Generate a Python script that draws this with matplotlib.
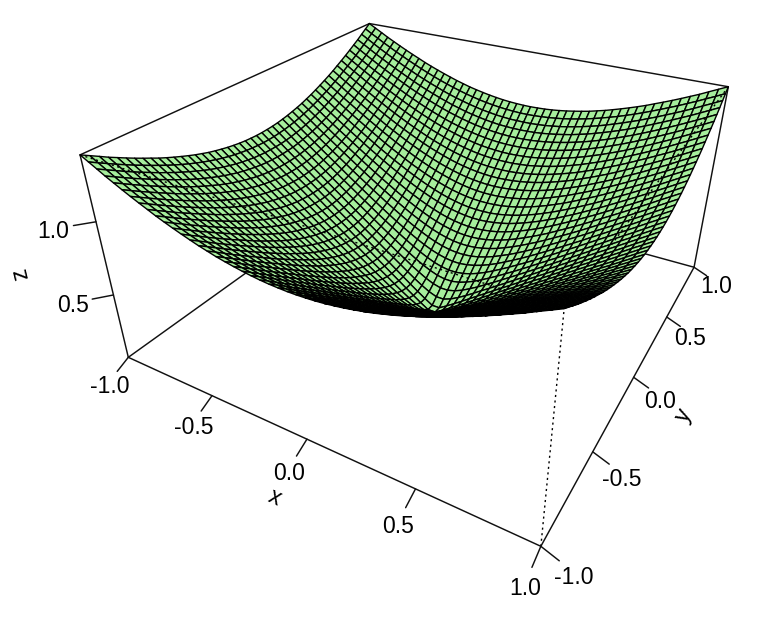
import numpy as np
import matplotlib
matplotlib.use('Agg')
import matplotlib.pyplot as plt
from matplotlib.collections import PolyCollection

plt.rcParams['font.family'] = ['Liberation Sans', 'DejaVu Sans']

# grid positions on the positive half of both axes (the other half mirrors it)
half_grid = [0.020, 0.061, 0.102, 0.143, 0.184, 0.224, 0.265, 0.306, 0.347, 0.388,
             0.429, 0.469, 0.510, 0.551, 0.592, 0.633, 0.673, 0.714, 0.755, 0.796,
             0.837, 0.878, 0.918, 0.959, 1.000]

# heights for one quadrant, upper triangle only (row i starts at column i)
z_rows = [
    [.029, .065, .104, .144, .185, .225, .266, .307, .348, .388, .429, .470, .511, .551, .592, .633, .674, .715, .755, .796, .837, .878, .919, .959, 1.000],
    [.087, .119, .155, .194, .233, .272, .312, .352, .393, .433, .473, .514, .554, .595, .636, .676, .717, .758, .798, .839, .880, .920, .961, 1.002],
    [.144, .176, .210, .247, .284, .323, .362, .401, .441, .480, .520, .560, .601, .641, .681, .722, .762, .802, .843, .883, .924, .965, 1.005],
    [.202, .233, .266, .301, .338, .375, .413, .452, .491, .530, .569, .609, .649, .688, .728, .768, .809, .849, .889, .929, .970, 1.010],
    [.260, .290, .323, .357, .393, .429, .466, .504, .542, .581, .620, .659, .698, .738, .777, .817, .857, .897, .937, .977, 1.017],
    [.317, .348, .380, .413, .448, .484, .520, .557, .595, .633, .671, .710, .749, .788, .827, .866, .906, .945, .985, 1.025],
    [.375, .405, .437, .470, .504, .539, .575, .612, .649, .686, .724, .762, .800, .839, .878, .917, .956, .995, 1.035],
    [.433, .463, .494, .527, .560, .595, .630, .666, .703, .740, .777, .815, .853, .891, .929, .968, 1.007, 1.046],
    [.491, .520, .551, .584, .617, .651, .686, .722, .758, .794, .831, .868, .906, .944, .982, 1.020, 1.058],
    [.548, .578, .609, .641, .674, .708, .742, .777, .813, .849, .885, .922, .959, .997, 1.035, 1.073],
    [.606, .636, .666, .698, .731, .764, .798, .833, .868, .904, .940, .977, 1.013, 1.051, 1.088],
    [.664, .693, .724, .755, .788, .821, .855, .889, .924, .959, .995, 1.031, 1.068, 1.105],
    [.722, .751, .781, .813, .845, .878, .911, .945, .980, 1.015, 1.051, 1.086, 1.123],
    [.779, .809, .839, .870, .902, .935, .968, 1.002, 1.036, 1.071, 1.106, 1.142],
    [.837, .866, .897, .928, .959, .992, 1.025, 1.058, 1.093, 1.127, 1.162],
    [.895, .924, .954, .985, 1.017, 1.049, 1.082, 1.115, 1.149, 1.183],
    [.952, .982, 1.012, 1.043, 1.074, 1.106, 1.139, 1.172, 1.206],
    [1.010, 1.039, 1.069, 1.100, 1.132, 1.163, 1.196, 1.229],
    [1.068, 1.097, 1.127, 1.158, 1.189, 1.221, 1.253],
    [1.126, 1.155, 1.185, 1.215, 1.246, 1.278],
    [1.183, 1.213, 1.242, 1.273, 1.304],
    [1.241, 1.270, 1.300, 1.330],
    [1.299, 1.328, 1.358],
    [1.356, 1.386],
    [1.414],
]

x_ticks = [-1.0, -0.5, 0.0, 0.5, 1.0]
y_ticks = [-1.0, -0.5, 0.0, 0.5, 1.0]
z_ticks = [0.5, 1.0]

# view, same meaning as in persp()
theta = np.radians(30)
phi = np.radians(30)
r = np.sqrt(3)
d = 1.0
expand = 0.5

mesh_color = '#a6ee9c'
font_size = 16.5

# fill the quadrant table and mirror it
n = len(half_grid)
quad = np.zeros((n, n))
for i, row in enumerate(z_rows):
    for k, val in enumerate(row):
        quad[i, i + k] = val
        quad[i + k, i] = val
x = np.concatenate([-np.array(half_grid[::-1]), half_grid])
y = x.copy()
z = np.block([[quad[::-1, ::-1], quad[::-1, :]], [quad[:, ::-1], quad]])

zmin, zmax = z.min(), z.max()
xmin, xmax = x.min(), x.max()
ymin, ymax = y.min(), y.max()


def project(px, py, pz):
    px = np.asarray(px, dtype=float)
    py = np.asarray(py, dtype=float)
    pz = (np.asarray(pz, dtype=float) - (zmin + zmax) / 2) / ((zmax - zmin) / 2) * expand
    right = px * np.cos(theta) + py * np.sin(theta)
    toward = px * np.sin(theta) - py * np.cos(theta)
    up = pz * np.cos(phi) - toward * np.sin(phi)
    depth = pz * np.sin(phi) + toward * np.cos(phi)
    w = 1 + (r + d - depth) / d
    return right / w, up / w


def seg(ax, p0, p1, zorder=3, **kw):
    sx, sy = project([p0[0], p1[0]], [p0[1], p1[1]], [p0[2], p1[2]])
    ax.plot(sx, sy, color=kw.pop('color', '#111111'), solid_capstyle='round', zorder=zorder, **kw)


fig = plt.figure(figsize=(7.68, 6.17), dpi=100)
ax = fig.add_axes([0, 0, 1, 1])
ax.set_xlim(-0.5293, 0.408)
ax.set_ylim(-0.485, 0.268)
ax.axis('off')

# back of the box, under the surface
box_lw = 1.05
seg(ax, (xmin, ymin, zmin), (xmin, ymax, zmin), zorder=0.5, lw=box_lw)
seg(ax, (xmax, ymax, zmin), (xmin, ymax, zmin), zorder=0.5, lw=box_lw)
seg(ax, (xmin, ymax, zmin), (xmin, ymax, zmax), zorder=0.5, lw=box_lw)
seg(ax, (xmin, ymin, zmax), (xmin, ymax, zmax), zorder=0.5, lw=box_lw)
seg(ax, (xmax, ymax, zmax), (xmin, ymax, zmax), zorder=0.5, lw=box_lw)
seg(ax, (xmin, ymin, zmin), (xmin, ymin, zmax), zorder=0.5, lw=box_lw)
seg(ax, (xmax, ymax, zmin), (xmax, ymax, zmax), zorder=0.5, lw=box_lw)

# surface cells, far to near
cells = []
for i in range(len(x) - 1):
    for j in range(len(y) - 2, -1, -1):
        cx = [x[i], x[i + 1], x[i + 1], x[i]]
        cy = [y[j], y[j], y[j + 1], y[j + 1]]
        cz = [z[i, j], z[i + 1, j], z[i + 1, j + 1], z[i, j + 1]]
        sx, sy = project(cx, cy, cz)
        cells.append(np.column_stack([sx, sy]))
ax.add_collection(PolyCollection(cells, facecolors=mesh_color, edgecolors='black',
                                 linewidths=1.0, joinstyle='round', zorder=1))

# front of the box is dotted
dots = dict(lw=1.0, ls=(0, (1.5, 2.5)), color='black')
seg(ax, (xmax, ymin, zmin), (xmax, ymin, zmax), **dots)
seg(ax, (xmin, ymin, zmax), (xmax, ymin, zmax), **dots)
seg(ax, (xmax, ymax, zmax), (xmax, ymin, zmax), **dots)

# axes
seg(ax, (xmin, ymin, zmin), (xmax, ymin, zmin), lw=box_lw)
seg(ax, (xmax, ymin, zmin), (xmax, ymax, zmin), lw=box_lw)


def put_text(p, off, label, rot=0):
    sx, sy = project(p[0] + off[0], p[1] + off[1], p[2] + off[2])
    ax.text(sx, sy, label, ha='center', va='center', fontsize=font_size, rotation=rot,
            rotation_mode='anchor')


for v in x_ticks:
    seg(ax, (v, ymin, zmin), (v, ymin - 0.07, zmin - 0.041), lw=box_lw)
    put_text((v, ymin, zmin), (0, -0.122, -0.108), '%.1f' % v)
for v in y_ticks:
    seg(ax, (xmax, v, zmin), (xmax + 0.07, v, zmin - 0.041), lw=box_lw)
    put_text((xmax, v, zmin), (0.126, 0, -0.111), '%.1f' % v)
for v in z_ticks:
    seg(ax, (xmin, ymin, v), (xmin - 0.054, ymin - 0.066, v), lw=box_lw)
    put_text((xmin, ymin, v), (-0.088, -0.135, 0), '%.1f' % v)


def axis_angle(p0, p1):
    sx, sy = project([p0[0], p1[0]], [p0[1], p1[1]], [p0[2], p1[2]])
    return np.degrees(np.arctan2(sy[1] - sy[0], sx[1] - sx[0]))


zmid = (zmin + zmax) / 2
put_text((0, ymin, zmin), (0, -0.215, -0.162), 'x',
         rot=axis_angle((xmin, ymin, zmin), (xmax, ymin, zmin)))
put_text((xmax, 0, zmin), (0.235, 0, -0.155), 'y',
         rot=axis_angle((xmax, ymin, zmin), (xmax, ymax, zmin)))
put_text((xmin, ymin, zmid), (-0.2365, -0.229, 0), 'z',
         rot=axis_angle((xmin, ymin, zmin), (xmin, ymin, zmax)))

fig.savefig('out.png', dpi=100)
